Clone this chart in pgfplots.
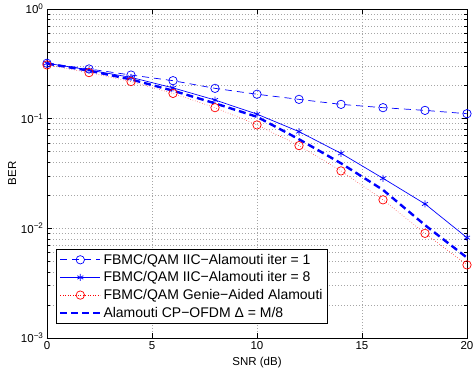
\documentclass[border=0pt]{standalone}
\usepackage{pgfplots}
\pgfplotsset{compat=1.18}
\usepackage{fontspec}
\setmainfont{Liberation Sans}
\definecolor{mblue}{RGB}{0,0,255}
\definecolor{mred}{RGB}{255,0,0}
\begin{document}
\begin{tikzpicture}
\begin{axis}[
 scale only axis, width=420pt, height=329pt,
 ymode=log, xmin=0, xmax=20, ymin=1e-3, ymax=1,
 xtick={0,5,10,15,20}, xticklabels={0,5,10,15,20},
 ytick={1e-3,1e-2,1e-1,1},
 yticklabels={10\textsuperscript{−3},10\textsuperscript{−2},10\textsuperscript{−1},10\textsuperscript{0}},
 grid=both,
 major grid style={dash pattern=on 0.6pt off 2.4pt, gray!70, line width=0.6pt},
 minor grid style={dash pattern=on 0.6pt off 2.4pt, gray!70, line width=0.6pt},
 minor x tick num=0,
 xlabel={SNR (dB)}, ylabel={BER},
 tick label style={font=\fontsize{11.5}{13}\selectfont},
 label style={font=\fontsize{11.5}{13}\selectfont},
 xlabel style={yshift=-1pt},
 ylabel style={yshift=-2pt},
 axis line style={black, line width=0.8pt},
 tick style={black, line width=0.5pt},
 major tick length=5pt, minor tick length=3pt,
 legend style={at={(0.021,0.043)}, anchor=south west, draw=black, fill=white,
   font=\fontsize{14}{16}\selectfont, cells={anchor=west}, row sep=2pt,
   inner xsep=3pt, inner ysep=3pt, line width=0.6pt},
 legend image code/.code={
   \draw[mark repeat=2, mark phase=2, #1] plot coordinates {(0pt,0pt) (20pt,0pt) (40pt,0pt)};
 },
]
\coordinate (bl) at (rel axis cs:0,0);
\coordinate (tr) at (rel axis cs:1,1);
\addplot[mblue, line width=0.7pt, dash pattern=on 7pt off 5pt, mark=o, mark size=4.2pt, mark options={solid, line width=0.7pt}]
 coordinates {(0,0.320)(2,0.284)(4,0.250)(6,0.222)(8,0.189)(10,0.167)(12,0.150)(14,0.135)(16,0.126)(18,0.119)(20,0.111)};
\addlegendentry{FBMC/QAM IIC−Alamouti iter = 1}
\addplot[mblue, line width=0.7pt, solid, mark=asterisk, mark size=3.5pt, mark options={solid, line width=0.7pt}]
 coordinates {(0,0.320)(2,0.278)(4,0.238)(6,0.191)(8,0.148)(10,0.110)(12,0.0762)(14,0.0483)(16,0.0286)(18,0.0167)(20,0.00822)};
\addlegendentry{FBMC/QAM IIC−Alamouti iter = 8}
\addplot[mred, line width=0.5pt, dotted, mark=o, mark size=4.2pt, mark options={solid, line width=0.7pt}]
 coordinates {(0,0.309)(2,0.263)(4,0.218)(6,0.170)(8,0.126)(10,0.0877)(12,0.0568)(14,0.0334)(16,0.0182)(18,0.0090)(20,0.00464)};
\addlegendentry{FBMC/QAM Genie−Aided Alamouti}
\addplot[mblue, line width=2.4pt, dash pattern=on 7pt off 4pt]
 coordinates {(0,0.318)(2,0.274)(4,0.228)(6,0.180)(8,0.138)(10,0.104)(12,0.0649)(14,0.0392)(16,0.0224)(18,0.0107)(20,0.0054)};
\addlegendentry{Alamouti CP−OFDM Δ = M/8}
\end{axis}
\pgfresetboundingbox
\path ([shift={(-47pt,-42pt)}]bl) rectangle ([shift={(7pt,9pt)}]tr);
\end{tikzpicture}
\end{document}
